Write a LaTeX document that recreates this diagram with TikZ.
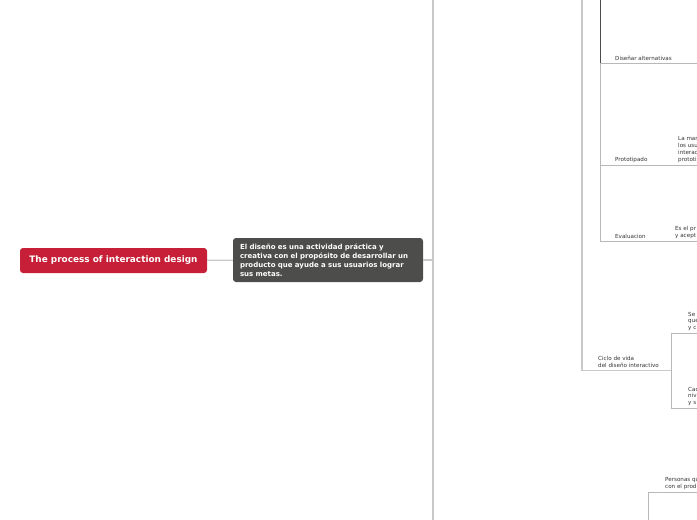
\documentclass[tikz,border=0pt]{standalone}
\usepackage{fontspec}
\setmainfont{DejaVu Sans}
\usetikzlibrary{positioning}
\definecolor{rojo}{HTML}{C71F37}
\definecolor{grisosc}{HTML}{4D4D4B}
\definecolor{linea}{HTML}{C9C9C9}
\definecolor{lineaosc}{HTML}{9A9A9A}
\tikzset{
  raiz/.style={fill=rojo, rounded corners=3pt, text=white, inner sep=0pt,
    minimum width=187pt, minimum height=25pt,
    font=\bfseries\fontsize{8.9}{10}\selectfont},
  tema/.style={fill=grisosc, rounded corners=3pt, text=white, inner sep=0pt,
    minimum width=190pt, minimum height=44pt, text width=176pt, align=left,
    font=\bfseries\fontsize{7}{9}\selectfont},
  hoja/.style={anchor=south west, inner sep=0pt, align=left, text=black!80,
    font=\fontsize{5.6}{6.8}\selectfont},
  rama/.style={draw=linea, line width=1.3pt},
  ramita/.style={draw=lineaosc!70, line width=0.8pt},
}
\begin{document}
\begin{tikzpicture}[x=1pt,y=-1pt]
    \useasboundingbox (0,0) rectangle (697,520);
    \clip (0,0) rectangle (697,520);
    %% nodos centrales
    \node[raiz] (proceso) at (113.5,260.5) {\raisebox{-1pt}{The process of interaction design}};
    \node[tema] (diseno) at (328,260) {El diseño es una actividad práctica y\\creativa con el propósito de desarrollar un\\producto que ayude a sus usuarios lograr\\sus metas.};
    \coordinate (tronco1) at (433,0);
    \coordinate (tronco2) at (433,520);
    \coordinate (troncoj) at (433,260);
    % uniones del tronco
    \draw[rama] (proceso) -- (diseno);
    \draw[rama] (diseno.east) -- (troncoj);
    \draw[rama] (tronco1) -- (tronco2);

    %% rama: ciclo de vida
    \coordinate (ciclo0) at (582,0);
    \coordinate (ciclo1) at (582,370.5);
    \coordinate (ciclo2) at (671,370.5);
    \node[hoja] (ciclo) at (598,367.5) {Ciclo de vida\\del diseño interactivo};
    \draw[rama] (ciclo0) -- (ciclo1) -- (ciclo2);
    \coordinate (sub1) at (671,333.5);
    \coordinate (sub2) at (671,408.5);
    \coordinate (sub1e) at (697,333.5);
    \coordinate (sub2e) at (697,408.5);
    \draw[ramita] (sub1e) -- (sub1) -- (sub2) -- (sub2e);
    \node[hoja] (se) at (688,331) {Se\\que\\y c};
    \node[hoja] (cada) at (688,406) {Cac\\niv\\y s};

    %% rama: actividades
    \coordinate (act0) at (600,0);
    \coordinate (act1) at (600,63.5);
    \coordinate (act2) at (600,165);
    \coordinate (act3) at (600,241);
    \draw[draw=grisosc, line width=1pt] (act0) -- (act1);
    \draw[ramita] (act1) -- (act3);
    \foreach \a in {act1,act2,act3}
        \draw[ramita] (\a) -- ++(97,0);
    \node[hoja] (alternativas) at (615,61) {Diseñar alternativas};
    \node[hoja] (prototipado) at (615,162.5) {Prototipado};
    \node[hoja] (evaluacion) at (615,238.5) {Evaluacion};
    \node[hoja] (manera) at (678,162.5) {La mar\\los usu\\interac\\prototi};
    \node[hoja] (proceso2) at (675,238.5) {Es el pr\\y acept};

    %% rama: personas
    \coordinate (pers0) at (648,492.5);
    \coordinate (pers1) at (697,492.5);
    \coordinate (pers2) at (648,520);
    \draw[ramita] (pers1) -- (pers0) -- (pers2);
    \node[hoja] (personas) at (665,490) {Personas qu\\con el produ};
\end{tikzpicture}
\end{document}
